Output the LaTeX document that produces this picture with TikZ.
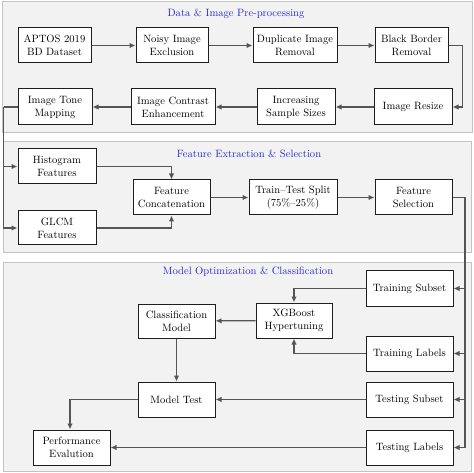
\documentclass[tikz,border=0pt]{standalone}
\usetikzlibrary{arrows.meta}
\definecolor{panelfill}{RGB}{242,242,242}
\definecolor{panelline}{RGB}{195,195,195}
\definecolor{arrcol}{RGB}{85,85,85}
\definecolor{boxline}{RGB}{30,30,30}
\definecolor{titleblue}{RGB}{40,40,215}
\begin{document}
\begin{tikzpicture}[x=1pt,y=-1pt,
  panel/.style={fill=panelfill,draw=panelline,line width=1pt},
  box/.style={draw=boxline,fill=white,line width=1pt,align=center,inner sep=1pt,
    font=\fontsize{10.6}{13}\selectfont},
  ttl/.style={text=titleblue,font=\fontsize{10.6}{12}\selectfont},
  arr/.style={draw=arrcol,line width=1.2pt,-{Latex[length=6pt,width=5.5pt]}},
  ln/.style={draw=arrcol,line width=1.2pt}]
\useasboundingbox (0,0) rectangle (474,473);
% panels
\path[panel] (2,2) rectangle (472,133);
\path[panel] (3,142) rectangle (471,253);
\path[panel] (3,263) rectangle (471,471);
% titles
\node[ttl] (t1) at (236,14) {Data \& Image Pre-processing};
\node[ttl] (t2) at (249,154) {Feature Extraction \& Selection};
\node[ttl] (t3) at (248,272) {Model Optimization \& Classification};
% panel 1
\node[box,minimum width=73pt,minimum height=35pt] (aptos) at (54.5,45.5) {APTOS 2019\\BD Dataset};
\node[box,minimum width=72pt,minimum height=35pt] (noisy) at (172,45.5) {Noisy Image\\Exclusion};
\node[box,minimum width=84pt,minimum height=35pt] (dup) at (295,45.5) {Duplicate Image\\Removal};
\node[box,minimum width=73pt,minimum height=35pt] (black) at (411.5,45.5) {Black Border\\Removal};
\node[box,minimum width=74pt,minimum height=36pt] (tone) at (55,107) {Image Tone\\Mapping};
\node[box,minimum width=84pt,minimum height=36pt] (contrast) at (173,107) {Image Contrast\\Enhancement};
\node[box,minimum width=78pt,minimum height=36pt] (incr) at (296,107) {Increasing\\Sample Sizes};
\node[box,minimum width=78pt,minimum height=36pt] (resize) at (413,107) {Image Resize};
% panel 2
\node[box,minimum width=78pt,minimum height=35pt] (hist) at (57,166.5) {Histogram\\Features};
\node[box,minimum width=78pt,minimum height=34pt] (glcm) at (57,228) {GLCM\\Features};
\node[box,minimum width=77pt,minimum height=35pt] (concat) at (171.5,197.5) {Feature\\Concatenation};
\node[box,minimum width=88pt,minimum height=35pt] (split) at (293,197.5) {Train--Test Split\\(75\%--25\%)};
\node[box,minimum width=77pt,minimum height=35pt] (fsel) at (413.5,197.5) {Feature\\Selection};
% panel 3
\node[box,minimum width=87pt,minimum height=35pt] (trsub) at (409.5,288.5) {Training Subset};
\node[box,minimum width=87pt,minimum height=35pt] (trlab) at (409.5,353.5) {Training Labels};
\node[box,minimum width=87pt,minimum height=35pt] (tesub) at (409.5,399.5) {Testing Subset};
\node[box,minimum width=87pt,minimum height=35pt] (telab) at (409.5,447.5) {Testing Labels};
\node[box,minimum width=76pt,minimum height=35pt] (xgb) at (294,320.5) {XGBoost\\Hypertuning};
\node[box,minimum width=77pt,minimum height=34pt] (cls) at (176.5,321) {Classification\\Model};
\node[box,minimum width=77pt,minimum height=35pt] (mtest) at (176.5,399.5) {Model Test};
\node[box,minimum width=77pt,minimum height=35pt] (perf) at (71.5,447.5) {Performance\\Evalution};
% connectors panel 1
\draw[arr] (aptos) -- (noisy);
\draw[arr] (noisy) -- (dup);
\draw[arr] (dup) -- (black);
\draw[arr] (black.east) -- ++(14,0) |- (resize.east);
\draw[arr] (resize) -- (incr);
\draw[arr] (incr) -- (contrast);
\draw[arr] (contrast) -- (tone);
% to panel 2
\coordinate (tl) at (3.5,107);
\draw[ln] (tone.west) -- (tl);
\draw[arr] (tl) |- (hist.west);
\draw[arr] (tl) |- (glcm.west);
\draw[arr] (hist.east) -| (concat.north);
\draw[arr] (glcm.east) -| (concat.south);
\draw[arr] (concat) -- (split);
\draw[arr] (split) -- (fsel);
% to panel 3
\coordinate (fr) at (465,197.5);
\draw[ln] (fsel.east) -- (fr);
\draw[arr] (fr) |- (trsub.east);
\draw[arr] (fr) |- (trlab.east);
\draw[arr] (fr) |- (tesub.east);
\draw[arr] (fr) |- (telab.east);
\draw[arr] (trsub.west) -| (xgb.north);
\draw[arr] (trlab.west) -| (xgb.south);
\draw[arr] (xgb) -- (cls);
\draw[arr] (cls) -- (mtest);
\draw[arr] (tesub) -- (mtest);
\draw[arr] (mtest.west) -| ([xshift=-1.5pt]perf.north);
\draw[arr] (telab) -- (perf);
\end{tikzpicture}
\end{document}
